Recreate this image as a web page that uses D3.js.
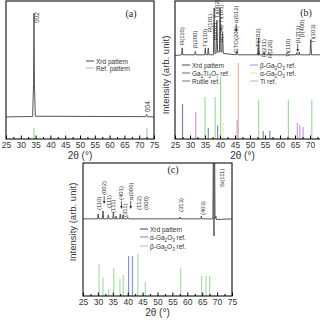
<!DOCTYPE html>
<html>
<head>
<meta charset="utf-8">
<script src="https://cdn.jsdelivr.net/npm/d3@7"></script>
<style>
  body { margin: 0; background: #fff; }
  svg { font-family: "Liberation Sans", Arial, sans-serif; }
</style>
</head>
<body>
<svg id="drawing_region"></svg>
<script>
// ---- data ----
const xTicks = [25, 30, 35, 40, 45, 50, 55, 60, 65, 70, 75];

// panel (a)
const xrdA = [[25, 16], [34.0, 16.3], [34.3, 40], [34.45, 91], [34.6, 40], [34.9, 16.5], [72.2, 16.2], [72.5, 17.8], [72.8, 16.2], [75, 16]];
const refA = [[34.45, 8], [72.6, 8]];
const peakLabelsA = [["002", 35.6, 23], ["004", 72.9, 112]];

// panel (b)
const xrdB = [[25, 60.5], [27.2, 61], [27.4, 66], [27.6, 61], [31.6, 61], [31.8, 63.5], [32.0, 61], [34.9, 61], [35.1, 66], [35.3, 61],
  [35.9, 61], [36.1, 66], [36.3, 61], [37.8, 61], [38.05, 95], [38.3, 62], [38.7, 62], [38.95, 86], [39.2, 63], [39.8, 63],
  [40.05, 95], [40.3, 63], [40.6, 63], [40.85, 77], [41.1, 62], [45.4, 61], [45.7, 64], [46.0, 61], [52.6, 61], [52.85, 73],
  [53.1, 61], [54.5, 61], [54.7, 63], [54.9, 61], [56.0, 61], [56.2, 62.5], [56.4, 61], [62.2, 61], [62.5, 62.5], [62.8, 61],
  [65.4, 61], [65.6, 62.5], [65.8, 61], [66.2, 61], [66.4, 63], [66.6, 61], [70.0, 61], [70.25, 72], [70.5, 61], [75, 61]];
const refBRutile = [[27.5, 25.4], [36.1, 8], [39.2, 10], [54.4, 5.8], [56.6, 5.8]];
const refBBeta = [[31.9, 19.6], [45.7, 13.8], [65.8, 11.6], [66.6, 10], [67.7, 8.7]];
const refBTi = [[35.0, 30.4], [38.4, 30.4], [40.2, 45], [52.9, 28], [62.8, 28], [70.6, 28]];
const refBAlpha = [[41.0, 12.3]];
const refBGTO = [[46.1, 55]];
// [label, 2theta, bottom y of text (px), arrow]
const peakLabelsB = [["R(110)", 27.4, 45], ["β(200)", 31.8, 48], ["Ti(110)", 35.1, 47], ["R(101)", 36.7, 32],
  ["Ti(002)", 38.9, 18], ["β(2̄02)", 38.3, 40], ["Ti(101)", 40.3, 23, true], ["α(113)", 40.3, 42],
  ["α(012)", 45.4, 23, true], ["GTO(200)", 45.4, 53], ["Ti(102)", 52.8, 47, true], ["R(211)", 54.6, 57],
  ["R(220)", 56.6, 58], ["Ti(110)", 62.6, 57], ["β(3̄13)", 65.9, 43, true], ["β(400)", 67.2, 37], ["Ti(103)", 70.9, 43]];

// panel (c)
const xrdC = [[25, 58], [29.9, 58], [30.1, 61.7], [30.3, 58], [31.5, 58], [31.7, 64], [31.9, 58], [33.3, 58], [33.5, 61], [33.7, 58],
  [35.0, 58], [35.2, 63], [35.4, 58], [35.9, 58], [36.1, 60], [36.3, 58], [37.3, 58], [37.5, 61.7], [37.7, 58], [38.2, 58],
  [38.4, 61], [38.6, 58], [39.8, 58], [40.0, 59.5], [40.2, 58], [57.4, 58], [57.6, 59.4], [57.8, 58], [64.5, 58], [64.7, 60],
  [64.9, 58], [68.6, 58], [68.8, 140], [68.95, 45], [69.1, 140], [69.3, 58], [69.6, 60], [69.8, 57.5], [75, 58]];
const refCAlpha = [[40.3, 30], [41.6, 30]];
const refCBeta = [[30.4, 24], [31.7, 14], [33.6, 5], [35.3, 21], [37.4, 13], [38.5, 16], [43.4, 31.6], [45.9, 10.5],
  [57.8, 21], [64.8, 15], [66.3, 15], [67.5, 15]];
const peakLabelsC = [["(110)", 30.4, 210], ["(002)", 32.1, 195, true], ["(111)", 33.8, 208], ["(1̄11)", 35.1, 213],
  ["(401)", 37.9, 200, true], ["(3̄11)", 39.1, 217], ["α(006)", 41.0, 200, true], ["(1̄12)", 43.8, 210],
  ["(600)", 46.1, 210], ["(3̄13)", 58.0, 212], ["(403)", 65.3, 215], ["Si(111)", 71.5, 187]];

// ---- drawing ----
const svg = d3.select('#drawing_region').attr('width', 320).attr('height', 320);

function sub(sel, parts) {
  // parts: array of [text, isSub]
  parts.forEach(p => {
    sel.append('tspan').attr('baseline-shift', p[1] ? '-30%' : null)
      .attr('font-size', p[1] ? '70%' : null).text(p[0]);
  });
}

function drawPanel(cfg) {
  const g = svg.append('g');
  const x = d3.scaleLinear().domain([25, 75]).range([cfg.left, cfg.right]);
  const y = d3.scaleLinear().domain([0, 100]).range([cfg.bottom, cfg.top]);
  const clipId = 'clip_' + cfg.name;
  svg.append('clipPath').attr('id', clipId).append('rect')
    .attr('x', cfg.left).attr('y', cfg.top).attr('width', cfg.right - cfg.left).attr('height', cfg.bottom - cfg.top);
  const plot = g.append('g').attr('clip-path', `url(#${clipId})`);

  // reference sticks
  cfg.refs.forEach(r => {
    plot.selectAll(null).data(r.data).join('line')
      .attr('x1', d => x(d[0])).attr('x2', d => x(d[0]))
      .attr('y1', y(0)).attr('y2', d => y(d[1]))
      .attr('stroke', r.color).attr('stroke-width', 1.2);
  });

  // xrd pattern
  const line = d3.line().x(d => x(d[0])).y(d => y(d[1]));
  plot.append('path').attr('d', line(cfg.xrd)).attr('fill', 'none')
    .attr('stroke', '#555').attr('stroke-width', 1);

  // frame
  g.append('rect').attr('x', cfg.left).attr('y', cfg.top)
    .attr('width', cfg.right - cfg.left).attr('height', cfg.bottom - cfg.top)
    .attr('fill', 'none').attr('stroke', '#222').attr('stroke-width', 1.2);

  // x axis
  const minor = d3.range(27.5, 75, 5);
  g.append('g').attr('transform', `translate(0,${cfg.bottom})`)
    .call(d3.axisBottom(x).tickValues(minor).tickSizeInner(-2).tickSizeOuter(0).tickFormat(''))
    .call(a => a.select('.domain').remove());
  const ax = g.append('g').attr('transform', `translate(0,${cfg.bottom})`)
    .call(d3.axisBottom(x).tickValues(xTicks).tickSizeInner(-3.5).tickSizeOuter(0).tickPadding(3));
  ax.select('.domain').remove();
  ax.selectAll('text').attr('font-size', 8.5).attr('fill', '#333').attr('font-family', '"Liberation Sans", Arial, sans-serif');
  g.append('text').attr('x', (cfg.left + Math.min(cfg.right, 310)) / 2).attr('y', cfg.bottom + 20)
    .attr('text-anchor', 'middle').attr('font-size', 10).attr('fill', '#333').text('2θ (°)');

  // y title
  g.append('text').attr('transform', `translate(${cfg.yTitleX},${cfg.yTitleY}) rotate(-90)`)
    .attr('text-anchor', 'middle').attr('font-size', 9.5).attr('fill', '#333').text('Intensity (arb. unit)');

  // panel tag
  g.append('text').attr('x', cfg.tag[1]).attr('y', cfg.tag[2]).attr('font-size', 10)
    .attr('font-family', '"Liberation Serif", serif').attr('text-anchor', 'middle').attr('fill', '#222').text(cfg.tag[0]);

  // peak labels
  cfg.labels.forEach(l => {
    const px = x(l[1]);
    g.append('text').attr('transform', `translate(${px + 2},${l[2]}) rotate(-90)`)
      .attr('font-size', cfg.labelSize).attr('fill', '#333').text(l[0]);
    if (l[3]) {
      g.append('line').attr('x1', px).attr('x2', px).attr('y1', l[2] + 1).attr('y2', l[2] + 8)
        .attr('stroke', '#333').attr('stroke-width', 0.8);
      g.append('path').attr('d', `M${px - 1.3},${l[2] + 6}L${px + 1.3},${l[2] + 6}L${px},${l[2] + 9}Z`).attr('fill', '#333');
    }
  });

  // legend
  cfg.legend.forEach(it => {
    g.append('line').attr('x1', it.x).attr('x2', it.x + 8).attr('y1', it.y - 3).attr('y2', it.y - 3)
      .attr('stroke', it.color).attr('stroke-width', 1.2);
    const t = g.append('text').attr('x', it.x + 10).attr('y', it.y).attr('font-size', 6.5).attr('fill', '#333');
    sub(t, it.parts);
  });
}

drawPanel({
  name: 'a', left: 6, right: 154, top: 1, bottom: 139, yTitleX: -2, yTitleY: 70, labelSize: 6.5,
  xrd: xrdA, refs: [{ data: refA, color: '#9fd49f' }], labels: peakLabelsA, tag: ['(a)', 131, 17],
  legend: [{ x: 86, y: 64, color: '#666', parts: [['Xrd pattern']] },
           { x: 86, y: 71, color: '#9fd49f', parts: [['Ref. pattern']] }]
});

drawPanel({
  name: 'b', left: 175, right: 325, top: 1, bottom: 139, yTitleX: 169, yTitleY: 75, labelSize: 6,
  xrd: xrdB,
  refs: [{ data: refBRutile, color: '#8488b0' }, { data: refBBeta, color: '#c99ad6' },
         { data: refBTi, color: '#a2d8a2' }, { data: refBAlpha, color: '#ecebb0' }, { data: refBGTO, color: '#e3b1a4' }],
  labels: peakLabelsB, tag: ['(b)', 306, 16],
  legend: [{ x: 182, y: 68, color: '#666', parts: [['Xrd pattern']] },
           { x: 182, y: 76, color: '#a27a7a', parts: [['Ga'], ['2', 1], ['Ti'], ['2', 1], ['O'], ['7', 1], [' ref.']] },
           { x: 182, y: 84, color: '#8488b0', parts: [['Rutile ref.']] },
           { x: 250, y: 68, color: '#c99ad6', parts: [['β-Ga'], ['2', 1], ['O'], ['3', 1], [' ref.']] },
           { x: 250, y: 76, color: '#ecebb0', parts: [['α-Ga'], ['2', 1], ['O'], ['3', 1], [' ref.']] },
           { x: 250, y: 84, color: '#a2d8a2', parts: [['Ti ref.']] }]
});

drawPanel({
  name: 'c', left: 83, right: 232, top: 163, bottom: 296, yTitleX: 76, yTitleY: 222, labelSize: 6,
  xrd: xrdC, refs: [{ data: refCBeta, color: '#a8dca8' }, { data: refCAlpha, color: '#8a93d6' }],
  labels: peakLabelsC, tag: ['(c)', 173, 173],
  legend: [{ x: 140, y: 232, color: '#666', parts: [['Xrd pattern']] },
           { x: 140, y: 240, color: '#8a93d6', parts: [['α-Ga'], ['2', 1], ['O'], ['3', 1], [' ref.']] },
           { x: 140, y: 249, color: '#a8dca8', parts: [['β-Ga'], ['2', 1], ['O'], ['3', 1], [' ref.']] }]
});
</script>
</body>
</html>
